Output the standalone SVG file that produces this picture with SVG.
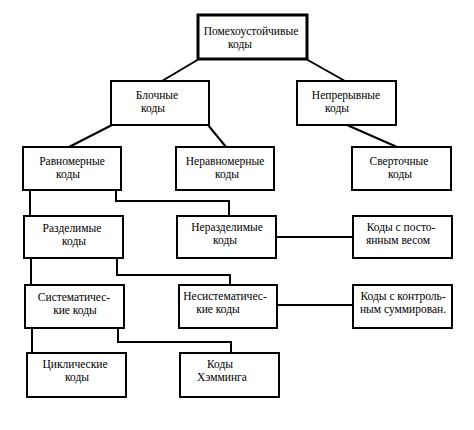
<svg xmlns="http://www.w3.org/2000/svg" width="474" height="430" viewBox="0 0 474 430">
<style>
rect{fill:#fff;stroke:#000;stroke-width:2}
#n0 rect{stroke-width:3}
text{font-family:'Liberation Serif','DejaVu Serif','Times New Roman',serif;font-size:11.5px;fill:#000;text-anchor:middle}
#edges path{fill:none;stroke:#000;stroke-width:2}
</style>
<rect x="0" y="0" width="474" height="430" style="stroke:none;fill:#fff"/>
<g id="edges">
<path d="M199 59 L162 81"/>
<path d="M306 59 L345 81"/>
<path d="M112 125 L69 147"/>
<path d="M208 125 L226 147"/>
<path d="M347 125 L397 147"/>
<path d="M30 190 V216"/>
<path d="M116 190 V201 H229 V216"/>
<path d="M276 237 H353"/>
<path d="M31 258 V285"/>
<path d="M117 258 V275 H230 V285"/>
<path d="M277 305 H353"/>
<path d="M32 328 V353"/>
<path d="M118 328 V342 H231 V353"/>
</g>
<g id="n0"><rect x="198" y="15" width="109" height="44"/><text x="251" y="35">Помехоустойчивые</text><text x="240" y="48">коды</text></g>
<g id="n1"><rect x="111" y="81" width="98" height="44"/><text x="157" y="99">Блочные</text><text x="153" y="112">коды</text></g>
<g id="n2"><rect x="297" y="81" width="99" height="44"/><text x="346" y="99">Непрерывные</text><text x="337" y="112">коды</text></g>
<g id="n3"><rect x="23" y="147" width="98" height="43"/><text x="72" y="165">Равномерные</text><text x="68" y="178">коды</text></g>
<g id="n4"><rect x="176" y="147" width="98" height="43"/><text x="225" y="165">Неравномерные</text><text x="227" y="178">коды</text></g>
<g id="n5"><rect x="352" y="147" width="99" height="43"/><text x="399" y="165">Сверточные</text><text x="400" y="178">коды</text></g>
<g id="n6"><rect x="24" y="216" width="99" height="42"/><text x="72" y="232">Разделимые</text><text x="74" y="245">коды</text></g>
<g id="n7"><rect x="177" y="216" width="99" height="42"/><text x="227" y="231">Неразделимые</text><text x="225" y="244">коды</text></g>
<g id="n8"><rect x="353" y="216" width="99" height="42"/><text x="401" y="231">Коды с посто-</text><text x="398" y="244">янным весом</text></g>
<g id="n9"><rect x="25" y="285" width="99" height="43"/><text x="74" y="301">Систематичес-</text><text x="75" y="314">кие коды</text></g>
<g id="n10"><rect x="179" y="285" width="98" height="43"/><text x="225" y="300">Несистематичес-</text><text x="218" y="313">кие коды</text></g>
<g id="n11"><rect x="353" y="285" width="99" height="43"/><text x="403" y="300">Коды с контроль-</text><text x="403" y="313">ным суммирован.</text></g>
<g id="n12"><rect x="27" y="353" width="99" height="44"/><text x="75" y="368">Циклические</text><text x="77" y="381">коды</text></g>
<g id="n13"><rect x="180" y="353" width="99" height="44"/><text x="220" y="368">Коды</text><text x="222" y="381">Хэмминга</text></g>
</svg>
